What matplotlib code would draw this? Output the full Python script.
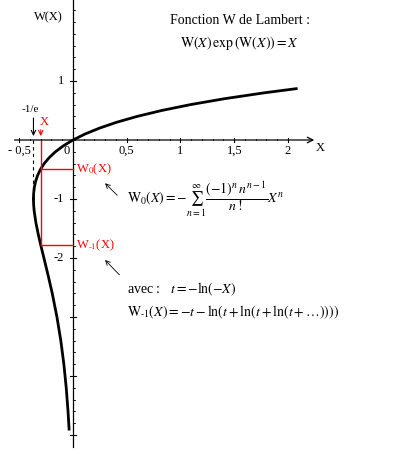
import numpy as np
import matplotlib
matplotlib.use("Agg")
import matplotlib.pyplot as plt

plt.rcParams['font.family'] = ['Liberation Serif', 'DejaVu Serif']
plt.rcParams['mathtext.fontset'] = 'stix'

# W values (branch parameter); x = w*exp(w) is the defining relation of Lambert W
w_upper = [-1.0, -0.9, -0.8, -0.7, -0.6, -0.5, -0.4, -0.3, -0.2, -0.1, 0.0, 0.1, 0.2, 0.3, 0.4, 0.5, 0.6, 0.7, 0.8, 0.87]
w_lower = [-1.0, -1.1, -1.2, -1.4, -1.6, -1.8, -2.0, -2.3, -2.6, -3.0, -3.4, -3.8, -4.2, -4.6, -4.9]
x_ticks = [-0.5, 0.5, 1, 1.5, 2]
x_tick_labels = ['- 0,5', '0,5', '1', '1,5', '2']
y_ticks = [1, -1, -2, -3, -4, -5]
y_tick_labels = ['1', '-1', '-2', '', '', '']
X_sample = -0.3
W0_sample = -0.489
Wm1_sample = -1.781

fig = plt.figure(figsize=(4.10, 4.50), dpi=100)
ax = fig.add_axes([0, 0, 1, 1])
ax.set_xlim(-73/107.5, 337/107.5)
ax.set_ylim(-310/59, 140/59)
ax.axis('off')

# axes
ax.annotate('', xy=(2.27, 0), xytext=(-0.57, 0),
            arrowprops=dict(arrowstyle='->', lw=0.9, color='black', mutation_scale=10))
ax.plot([0, 0], [-5.2, 2.37], color='black', lw=0.9)
for t in x_ticks:
    ax.plot([t, t], [-0.04, 0.04], color='black', lw=0.8)
for t in np.arange(-0.4, 2.05, 0.1):
    ax.plot([t, t], [0, 0.025], color='black', lw=0.6)
for t in y_ticks:
    ax.plot([-0.03, 0.03], [t, t], color='black', lw=0.8)
for t in np.arange(-5.0, 2.3, 0.2):
    ax.plot([0, 0.02], [t, t], color='black', lw=0.6)
for t, l in zip(x_ticks, x_tick_labels):
    ax.text(t, -0.08, l, ha='center', va='top', fontsize=9)
ax.text(-0.06, -0.08, '0', ha='center', va='top', fontsize=9)
for t, l in zip(y_ticks, y_tick_labels):
    if l:
        ax.text(-0.08, t, l, ha='right', va='center', fontsize=9)
ax.text(2.26, -0.14, 'X', ha='left', va='center', fontsize=9)
ax.text(-0.36, 2.08, 'W(X)', ha='left', va='center', fontsize=9)

# curves
wu = np.array(w_upper); wl = np.array(w_lower)
ax.plot(wu*np.exp(wu), wu, color='black', lw=2)
ax.plot(wl*np.exp(wl), wl, color='black', lw=2)

# -1/e marker
ax.plot([-1/np.e, -1/np.e], [0, -1], color='black', lw=0.8, ls=(0, (3, 3)))
ax.text(-0.40, 0.52, '-1/e', ha='center', va='center', fontsize=8)
ax.annotate('', xy=(-1/np.e, 0.02), xytext=(-1/np.e, 0.42),
            arrowprops=dict(arrowstyle='->', lw=0.8, color='black', mutation_scale=8))
ax.text(X_sample+0.03, 0.31, 'X', color='red', ha='center', va='center', fontsize=9)
ax.annotate('', xy=(X_sample, 0.02), xytext=(X_sample, 0.22),
            arrowprops=dict(arrowstyle='->', lw=0.8, color='red', mutation_scale=8))
ax.plot([X_sample, X_sample], [0, Wm1_sample], color='red', lw=1)
ax.plot([X_sample, 0], [W0_sample, W0_sample], color='red', lw=1)
ax.plot([X_sample, 0], [Wm1_sample, Wm1_sample], color='red', lw=1)
ax.text(0.03, W0_sample, r'W$_0$(X)', color='red', ha='left', va='center', fontsize=9)
ax.text(0.03, Wm1_sample, r'W$_{\text{-1}}$(X)', color='red', ha='left', va='center', fontsize=9)

# formulas
ax.text(1.55, 2.02, 'Fonction W de Lambert :', ha='center', va='center', fontsize=10)
ax.text(1.55, 1.65, r'$\mathrm{W}(X)\,\exp\left(\mathrm{W}(X)\right)=X$', ha='center', va='center', fontsize=10)
ax.annotate('', xy=(0.28, -0.70), xytext=(0.43, -0.97),
            arrowprops=dict(arrowstyle='->', lw=0.6, color='black', mutation_scale=8))
ax.text(0.50, -1.0, r'$\mathrm{W}_0(X)=-\sum_{n=1}^{\infty}\dfrac{(-1)^n\,n^{n-1}}{n\,!}X^n$',
        ha='left', va='center', fontsize=10)
ax.annotate('', xy=(0.28, -2.0), xytext=(0.45, -2.32),
            arrowprops=dict(arrowstyle='->', lw=0.6, color='black', mutation_scale=8))
ax.text(0.50, -2.53, r'avec :   $t=-\ln(-X)$', ha='left', va='center', fontsize=10)
ax.text(0.50, -2.92, r'$\mathrm{W}_{\text{-1}}(X)=-t-\ln(t+\ln(t+\ln(t+\ldots))))$',
        ha='left', va='center', fontsize=10)

fig.savefig('out.png', dpi=100)
